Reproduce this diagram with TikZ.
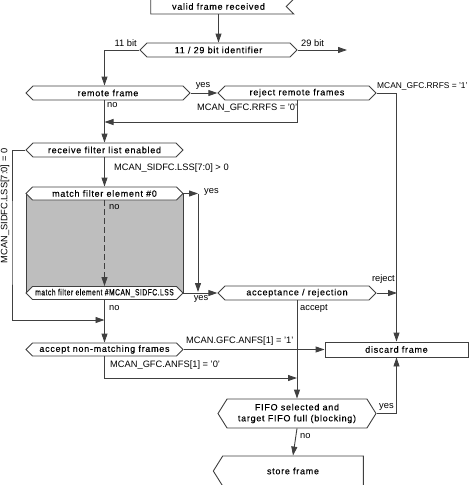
\documentclass[tikz,border=0pt]{standalone}
\usepackage{fontspec}
\setmainfont{Liberation Sans}
\newfontfamily\bxfont[LetterSpace=8,FakeBold=0.15]{Liberation Sans}
\usetikzlibrary{arrows.meta,shapes.symbols,calc}
\definecolor{ln}{HTML}{404040}
\definecolor{gr}{HTML}{BEBEBE}
\tikzset{
  base/.style={draw=ln,line width=0.9pt,fill=white,inner sep=0pt,font=\fontsize{9}{11}\selectfont\bxfont,text=black},
  hexa/.style={base,signal,signal to=west and east,signal pointer angle=90,minimum height=14pt},
  arr/.style={draw=ln,line width=0.9pt,-{Triangle[length=9pt,width=6pt]}},
  ln/.style={draw=ln,line width=0.9pt},
  lbl/.style={font=\fontsize{9.3}{11}\selectfont,text=black,inner sep=1pt},
}
\begin{document}
\begin{tikzpicture}[x=1pt,y=-1pt]
\useasboundingbox (0,0) rectangle (474,485);
% grey block behind filter loop
\fill[gr,draw=ln,line width=0.9pt] (26.5,193.5) rectangle (183,293);

\node[base,signal,signal from=east,signal to=nowhere,minimum width=143pt,minimum height=15pt] (valid) at (218.5,6.5) {valid frame received};
\node[hexa,minimum width=157pt] (ident) at (218.5,50) {11 / 29 bit identifier};
\node[hexa,minimum width=164pt] (remote) at (108,93) {remote frame};
\node[hexa,minimum width=158pt] (reject) at (297,93) {reject remote frames};
\node[hexa,minimum width=157pt] (rfl) at (104.5,150) {receive filter list enabled};
\node[hexa,minimum width=157pt,minimum height=13pt] (mf0) at (104.5,193.5) {match filter element \#0};
\node[hexa,minimum width=157pt,minimum height=13pt] (mfn) at (104.5,293) {\scalebox{0.74}[1]{match filter element \#MCAN\_SIDFC.LSS}};
\node[hexa,minimum width=158pt] (acc) at (297,293) {acceptance / rejection};
\node[hexa,minimum width=157pt,minimum height=13pt] (anm) at (104.5,349.5) {accept non-matching frames};
\node[base,rectangle,minimum width=143pt,minimum height=15pt] (discard) at (396.5,349.5) {discard frame};
\node[hexa,signal pointer angle=116,minimum width=158pt,minimum height=29pt,align=center] (fifo) at (297,413.5) {FIFO selected and\\target FIFO full (blocking)};
\node[base,signal,signal to=west,signal pointer angle=116,minimum width=150pt,minimum height=30pt] (store) at (293,471) {store frame};

\coordinate (o29) at (347,50);
\coordinate (j1) at (104.5,122);
\coordinate (j2) at (104.5,320);
\coordinate (k1) at (198,193.5);
\coordinate (k2) at (198,292);
\coordinate (r1) at (397,293);
\coordinate (a0) at (297,378);

\draw[arr] (valid.south) -- (ident.north);
\draw[arr] (ident.west) -| (remote.north -| rfl.north);
\draw[arr] (ident.east) -- (o29);
\draw[arr] (remote.east) -- (reject.west);
\draw[arr] (reject.east) -| (discard.north);
\draw[arr] (reject.south) |- (j1);
\draw[arr] (remote.south -| rfl.north) -- (rfl.north);
\draw[arr] (rfl.west) -| (12,250) |- (j2);
\draw[arr] (rfl.south) -- (mf0.north);
\draw[arr,dash pattern=on 6pt off 3pt] (mf0.south) -- (mfn.north);
\draw[arr] (mf0.east) -- (k1);
\draw[arr] (k1) -- (k2);
\draw[arr] (mfn.east) -- (acc.west);
\draw[arr] (mfn.south) -- (anm.north);
\draw[arr] (acc.east) -- (r1);
\draw[arr] (acc.south) -- (fifo.north);
\draw[arr] (anm.east) -- (discard.west);
\draw[arr] (anm.south) |- (a0);
\draw[arr] (fifo.east) -| (discard.south);
\draw[arr] (fifo.south) -- (store.north);

\node[lbl,anchor=south east] at (138,48) {11 bit};
\node[lbl,anchor=south west] at (300,48) {29 bit};
\node[lbl,anchor=south] at (203,91) {yes};
\node[lbl,anchor=south west,font=\fontsize{8.4}{10}\selectfont] at (376,91) {MCAN\_GFC.RRFS = '1'};
\node[lbl,anchor=north west] at (106,101) {no};
\node[lbl,anchor=west] at (196,108) {MCAN\_GFC.RRFS = '0'};
\node[lbl,anchor=west] at (113,168) {MCAN\_SIDFC.LSS[7:0] > 0};
\node[lbl,rotate=90] at (5,206) {MCAN\_SIDFC.LSS[7:0] = 0};
\node[lbl,anchor=west] at (203,192) {yes};
\node[lbl,anchor=west] at (108,207) {no};
\node[lbl,anchor=north] at (201,294) {yes};
\node[lbl,anchor=west] at (108,308) {no};
\node[lbl,anchor=south east] at (396,285) {reject};
\node[lbl,anchor=west] at (299,308) {accept};
\node[lbl,anchor=south west] at (185,347) {MCAN.GFC.ANFS[1] = '1'};
\node[lbl,anchor=west] at (109,365) {MCAN\_GFC.ANFS[1] = '0'};
\node[lbl,anchor=south west] at (378,412) {yes};
\node[lbl,anchor=west] at (299,436) {no};
\end{tikzpicture}
\end{document}
